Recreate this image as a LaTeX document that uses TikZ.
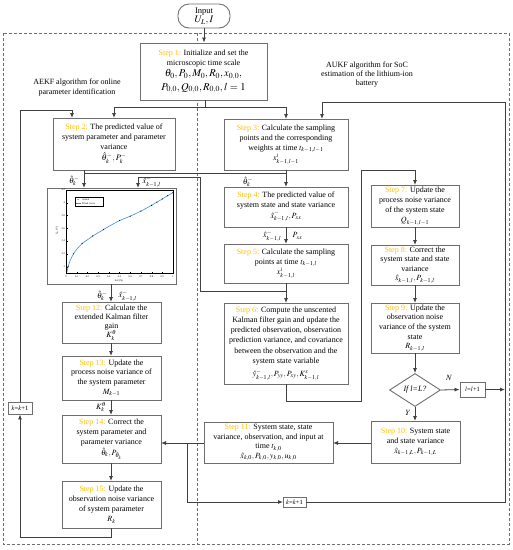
\documentclass[tikz,border=0pt]{standalone}
\usepackage{mathptmx}
\usepackage[no-math]{fontspec}
\setmainfont{Liberation Serif}
\usetikzlibrary{arrows.meta,shapes.geometric}
\definecolor{stepc}{HTML}{FFC000}
\definecolor{boxc}{HTML}{6E6E6E}
\definecolor{linec}{HTML}{404040}
\definecolor{curvec}{HTML}{3A8DDE}
\tikzset{
  stepbox/.style={draw=boxc, line width=0.9pt, fill=white, align=center, inner sep=1pt, font=\fontsize{8}{10.2}\selectfont},
  smallbox/.style={stepbox, inner sep=0.5pt, font=\fontsize{6.5}{7}\selectfont},
  conn/.style={draw=linec, line width=0.8pt},
  arr/.style={conn, -{Latex[length=5pt,width=4pt]}},
  lab/.style={inner sep=0.5pt, font=\fontsize{8}{9}\selectfont},
  dashbox/.style={draw=boxc, line width=0.7pt, dash pattern=on 3pt off 2pt},
  tick/.style={inner sep=0pt, font=\fontsize{2.6}{3}\selectfont},
}
\newcommand\St[1]{\textcolor{stepc}{Step #1:}}
\newcommand\mybox[7][]{\node[stepbox, #1, minimum width={#5-#3}, minimum height={#6-#4}] (#2) at ({(#3+#5)/2},{(#4+#6)/2}) {#7};}
\begin{document}
\begin{tikzpicture}[x=1pt,y=-1pt]
\useasboundingbox (0,0) rectangle (513,550);
% dashed frames
\draw[dashbox] (3,33) rectangle (509,544);
\draw[dashbox] (197,33) -- (197,544);
% titles
\node[align=center, font=\fontsize{8}{10}\selectfont] (aekf) at (77,88) {AEKF algorithm for online\\ parameter identification};
\node[align=center, font=\fontsize{8}{9}\selectfont] (aukf) at (367,75) {AUKF algorithm for SoC\\ estimation of the lithium-ion\\ battery};
% input
\node[draw=boxc, line width=0.9pt, rounded corners=11pt, minimum width=52, minimum height=24, fill=white, align=center, inner sep=0.5pt, font=\fontsize{8.5}{9.5}\selectfont] (in) at (204,16) {Input\\ {\fontsize{10}{10}\selectfont $U_L,I$}};
% boxes
\mybox{s1}{140}{43}{267}{100}{\St{1} Initialize and set the\\ microscopic time scale\\[1pt] {\fontsize{10.5}{14}\selectfont $\theta_0,P_0,M_0,R_0,x_{0,0},$}\\[2pt] {\fontsize{10.5}{14}\selectfont $P_{0,0},Q_{0,0},R_{0,0},l=1$}}
\mybox[font=\fontsize{8}{9.8}\selectfont]{s2}{53}{118}{175}{170}{\St{2} The predicted value of\\ system parameter and parameter\\ variance\\[1.5pt] {\fontsize{8.5}{9}\selectfont $\hat{\theta}_k^-,P_k^-$}}
\mybox{s3}{224}{119}{348}{170}{\St{3} Calculate the sampling\\ points and the corresponding\\ weights at time $t_{k-1,l-1}$\\ $x^i_{k-1,l-1}$}
\mybox{s4}{224}{187}{348}{227}{\St{4} The predicted value of\\ system state and state variance\\ $\hat{x}^-_{k-1,l},P_{xx}$}
\mybox{s5}{224}{244}{348}{283}{\St{5} Calculate the sampling\\ points at time $t_{k-1,l}$\\ $x^i_{k-1,l}$}
\mybox{s6}{224}{303}{348}{384}{\St{6} Compute the unscented\\ Kalman filter gain and update the\\ predicted observation, observation\\ prediction variance, and covariance\\ between the observation and the\\ system state variable\\[3pt] $\hat{y}^-_{k-1,l},P_{yy},P_{xy},K^x_{k-1,l}$}
\mybox{s7}{371}{185}{459}{227}{\St{7} Update the\\ process noise variance\\ of the system state\\ $Q_{k-1,l-1}$}
\mybox[font=\fontsize{8}{9.6}\selectfont]{s8}{371}{245}{459}{285}{\St{8} Correct the\\ system state and state\\ variance\\ $\hat{x}_{k-1,l},P_{k-1,l}$}
\mybox[font=\fontsize{8}{9.6}\selectfont]{s9}{371}{303}{459}{353}{\St{9} Update the\\ observation noise\\ variance of the system\\ state\\ $R_{k-1,l}$}
\mybox{s10}{371}{421}{460}{463}{\St{10} System state\\ and state variance\\ $\hat{x}_{k-1,L},P_{k-1,L}$}
\mybox[font=\fontsize{8}{9.6}\selectfont]{s11}{204}{422}{333}{463}{\St{11} System state, state\\ variance, observation, and input at\\ time $t_{k,0}$\\ $\hat{x}_{k,0},P_{k,0},y_{k,0},u_{k,0}$}
\mybox[font=\fontsize{8}{9.2}\selectfont]{s12}{62}{302}{161}{343}{\St{12} Calculate the\\ extended Kalman filter\\ gain\\ $K_k^{\theta}$}
\mybox[font=\fontsize{8}{9.8}\selectfont]{s13}{62}{356}{161}{400}{\St{13} Update the\\ process noise variance of\\ the system parameter\\ $M_{k-1}$}
\mybox{s14}{62}{415}{161}{463}{\St{14} Correct the\\ system parameter and\\ parameter variance\\ $\hat{\theta}_k,P_{\hat{\theta}_k}$}
\mybox{s15}{62}{481}{161}{528}{\St{15} Update the\\ observation noise variance\\ of system parameter\\ $R_k$}
\mybox[smallbox]{ll}{460}{382}{485}{397}{$l$=$l$+1}
\mybox[smallbox]{kr}{283}{497}{306}{507}{$k$=$k$+1}
\mybox[smallbox]{kl}{8}{402}{32}{414}{$k$=$k$+1}
\node[diamond, draw=boxc, line width=0.9pt, fill=white, minimum width=51, minimum height=33, inner sep=0pt, font=\fontsize{8}{9}\selectfont] (dm) at (415,390) {\textit{If l=L?}};
% plot
\node[draw=boxc, line width=1pt, fill=white, minimum width=129, minimum height=96, inner sep=0pt] (plot) at (111.5,236) {};
\draw[line width=0.3pt] (66,190) rectangle (173,273);
\foreach \v/\t in {0/0,0.1/0.1,0.2/0.2,0.3/0.3,0.4/0.4,0.5/0.5,0.6/0.6,0.7/0.7,0.8/0.8,0.9/0.9,1/1}{
  \draw[line width=0.2pt] ({66+107*\v},273) -- ({66+107*\v},271.5);
  \node[tick] at ({66+107*\v},276.5) {\t};}
\foreach \u in {3,3.2,3.4,3.6,3.8,4,4.2}{
  \draw[line width=0.2pt] (66,{273-63.85*(\u-2.9)}) -- (67.5,{273-63.85*(\u-2.9)});
  \node[tick, anchor=east] at (65,{273-63.85*(\u-2.9)}) {\u};}
\node[tick, rotate=90] at (57,231) {U\textsubscript{oc}(V)};
\node[tick] at (119,280.5) {SoC(\%)};
\begin{scope}[shift={(66,273)}, x=107pt, y=63.85pt]
  \draw[curvec, line width=0.6pt] plot[smooth] coordinates {(0.01,0.02) (0.02,0.1) (0.04,0.2) (0.07,0.3) (0.1,0.37) (0.15,0.46) (0.2,0.52) (0.25,0.58) (0.3,0.63) (0.35,0.68) (0.4,0.73) (0.5,0.82) (0.6,0.89) (0.7,0.97) (0.8,1.06) (0.9,1.16) (1.0,1.26)};
  \foreach \p in {(0.02,0.1),(0.07,0.3),(0.15,0.46),(0.25,0.58),(0.35,0.68),(0.5,0.82),(0.6,0.89),(0.7,0.97),(0.8,1.06),(0.85,1.11),(0.9,1.16),(0.95,1.21),(1.0,1.26)}
    \fill \p circle[radius=0.6pt];
\end{scope}
\node[draw, line width=0.2pt, fill=white, minimum width=28, minimum height=9, inner sep=0pt] (leg) at (89,201.5) {};
\fill (78,199.5) circle[radius=0.5pt];
\node[tick, anchor=west] at (82,199.5) {Actual};
\draw[curvec, line width=0.5pt] (76,203.5) -- (81,203.5);
\node[tick, anchor=west] at (82,203.5) {Fitted Curve};
% labels
\node[lab, anchor=east] at (80,181) {$\hat{\theta}_k^-$};
\node[lab, anchor=west] at (142,182) {$\hat{x}^-_{k-1,l}$};
\node[lab, anchor=east] at (108,296) {$\hat{\theta}_k^-$};
\node[lab, anchor=west] at (118,296) {$\hat{x}^-_{k-1,l}$};
\node[lab] at (248,182) {$\hat{\theta}_k^-$};
\node[lab, anchor=east] at (282,236) {$\hat{x}^-_{k-1,l}$};
\node[lab, anchor=west] at (292,236) {$P_{xx}$};
\node[lab, anchor=east] at (107,407) {$K_k^{\theta}$};
\node[lab] at (449,378) {$N$};
\node[lab] at (408,413) {$Y$};
% connectors
\coordinate (j1) at (205,107);
\draw[arr] (in.south) -- (in.south |- s1.north);
\draw[conn] (s1.south -| j1) -- (j1);
\draw[conn] (114,107) -- (286,107);
\draw[arr] (114,107) -- (114,118);
\draw[arr] (286,107) -- (286,119);
% left loop
\draw[arr] (111,528) -- (111,537) -- (20,537) -- (kl.south);
\draw[arr] (kl.north) -- (20,110) -- (72,110) -- (72,118);
% theta line
\draw[arr] (84,170) -- (84,188);
\draw[conn] (84,173) -- (286,173);
\draw[arr] (286,170) -- (286,187);
% x line
\draw[arr] (286,291) -- (200,291) -- (200,177) -- (138,177) -- (138,188);
\draw[arr] (286,227) -- (286,244);
\draw[arr] (286,283) -- (286,303);
% left column
\draw[arr] (111,284) -- (111,302);
\draw[arr] (111,343) -- (111,356);
\draw[arr] (111,400) -- (111,415);
\draw[arr] (111,463) -- (111,481);
% step 6 loop to step 7
\draw[arr] (286,384) -- (286,401) -- (361,401) -- (361,170) -- (415,170) -- (415,185);
\draw[arr] (415,227) -- (415,245);
\draw[arr] (415,285) -- (415,303);
\draw[arr] (415,353) -- (dm.north);
\draw[arr] (dm.east) -- (ll.west);
\draw[arr] (ll.east) -- (505,389.5);
\draw[arr] (dm.south) -- (415,421);
\draw[arr] (371,443) -- (333,443);
\draw[arr] (204,443) -- (161,443);
\draw[arr] (187,443) -- (187,502) -- (283,502);
\draw[arr] (306,502) -- (505,502) -- (505,102) -- (322,102) -- (322,119);
\end{tikzpicture}
\end{document}
